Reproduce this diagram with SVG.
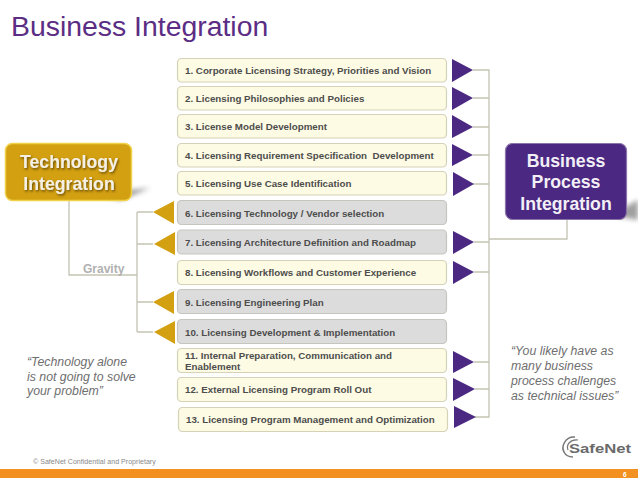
<svg xmlns="http://www.w3.org/2000/svg" width="638" height="478" viewBox="0 0 638 478">
<defs>
<filter id="blur" x="-20%" y="-50%" width="140%" height="200%"><feGaussianBlur stdDeviation="2.5"/></filter>
<filter id="ts" x="-10%" y="-20%" width="120%" height="150%"><feDropShadow dx="1" dy="1.5" stdDeviation="0.8" flood-color="#3a2a00" flood-opacity="0.7"/></filter>
<style>
text{font-family:"Liberation Sans",Arial,sans-serif}
.box{stroke-width:1.2}
.y{fill:#fdfbe3;stroke:#d5d2b8}
.g{fill:#dcdcdc;stroke:#c6c6c0}
.t{font-size:9.75px;font-weight:bold;fill:#4d4d4d}
.p{fill:#4b2882}
.o{fill:#d3a011}
.c{fill:none;stroke:#c4c3b3;stroke-width:1.3}
.q{font-size:12.3px;font-style:italic;fill:#6e6e6e}
.big{font-size:17.7px;font-weight:bold;fill:#f5f0e4;text-anchor:middle}
</style>
</defs>
<rect width="638" height="478" fill="#fff"/>
<text x="11" y="36" font-size="28.4" fill="#5b2d84">Business Integration</text>

<g id="connectors">
<path class="c" d="M473 70H489V417H475M473 98H489M473 127H489M473 155H489M473 184H489M474 242H489M474 272H489M474 362H489M475 389H489M489 239H567V220"/>
<path class="c" d="M69 200V275H137M137 212V332M137 212H153M137 244H153M137 302H153M137 332H153"/>
</g>

<g id="node-technology">
<path d="M100 194L150 188L120 200Z" fill="#666" opacity="0.75" filter="url(#blur)"/>
<rect x="5.500" y="143.500" width="126" height="57" rx="7" fill="#d3a011" stroke="#f0d24a" stroke-width="1.500"/>
<text class="big" x="69" y="168" filter="url(#ts)">Technology</text>
<text class="big" x="69" y="190" filter="url(#ts)">Integration</text>
</g>

<g id="node-business">
<path d="M610 215L638 200V220Z" fill="#777" opacity="0.7" filter="url(#blur)"/>
<rect x="505.500" y="143.500" width="121" height="76" rx="7" fill="#4b2882" stroke="#8a74a8" stroke-width="1.200"/>
<text class="big" x="566" y="167" style="fill:#f2eff6">Business</text>
<text class="big" x="566" y="188" style="fill:#f2eff6">Process</text>
<text class="big" x="566" y="210" style="fill:#f2eff6">Integration</text>
</g>

<g id="node-1"><rect class="box y" x="177.500" y="58.500" width="269" height="23.500" rx="4"/><text class="t" x="185" y="74">1. Corporate Licensing Strategy, Priorities and Vision</text><polygon class="p" points="452,59 473,70 452,82"/></g>
<g id="node-2"><rect class="box y" x="177.500" y="86.500" width="269" height="23.500" rx="4"/><text class="t" x="185" y="102">2. Licensing Philosophies and Policies</text><polygon class="p" points="452,87 473,98 452,110"/></g>
<g id="node-3"><rect class="box y" x="177.500" y="114.500" width="269" height="23.500" rx="4"/><text class="t" x="185" y="130">3. License Model Development</text><polygon class="p" points="452,115 473,127 452,138"/></g>
<g id="node-4"><rect class="box y" x="177.500" y="143.500" width="269" height="23.500" rx="4"/><text class="t" x="185" y="159" xml:space="preserve">4. Licensing Requirement Specification  Development</text><polygon class="p" points="452,144 473,155 452,166"/></g>
<g id="node-5"><rect class="box y" x="177.500" y="171.500" width="269" height="23.500" rx="4"/><text class="t" x="185" y="187">5. Licensing Use Case Identification</text><polygon class="p" points="453,172 474,184 453,196"/></g>
<g id="node-6"><rect class="box g" x="177.500" y="200.500" width="269" height="24" rx="4"/><text class="t" x="185" y="216.500">6. Licensing Technology / Vendor selection</text><polygon class="o" points="174,201 153,212 174,224"/></g>
<g id="node-7"><rect class="box g" x="177.500" y="230" width="269" height="24" rx="4"/><text class="t" x="185" y="246">7. Licensing Architecture Definition and Roadmap</text><polygon class="o" points="175,232 154,244 175,255"/><polygon class="p" points="453,231 474,242 453,254"/></g>
<g id="node-8"><rect class="box y" x="177.500" y="260.500" width="269" height="24" rx="4"/><text class="t" x="185" y="276">8. Licensing Workflows and Customer Experience</text><polygon class="p" points="453,261 474,272 453,284"/></g>
<g id="node-9"><rect class="box g" x="177.500" y="289.500" width="269" height="24" rx="4"/><text class="t" x="185" y="305.500">9. Licensing Engineering Plan</text><polygon class="o" points="174,291 153,302 174,314"/></g>
<g id="node-10"><rect class="box g" x="177.500" y="319.500" width="269" height="24" rx="4"/><text class="t" x="185" y="335.500">10. Licensing Development &amp; Implementation</text><polygon class="o" points="175,321 154,332 175,344"/></g>
<g id="node-11"><rect class="box y" x="177.500" y="348.500" width="269" height="24" rx="4"/><text class="t" x="185" y="358.500">11. Internal Preparation, Communication and</text><text class="t" x="185" y="370">Enablement</text><polygon class="p" points="453,351 474,362 453,373"/></g>
<g id="node-12"><rect class="box y" x="177.500" y="377.500" width="269" height="24" rx="4"/><text class="t" x="185" y="393">12. External Licensing Program Roll Out</text><polygon class="p" points="453,378 475,389 453,401"/></g>
<g id="node-13"><rect class="box y" x="178.500" y="407.500" width="269" height="24" rx="4"/><text class="t" x="186" y="423">13. Licensing Program Management and Optimization</text><polygon class="p" points="454,406 476,417 454,428"/></g>

<text x="83" y="273" font-size="12" font-weight="bold" fill="#b0b0b0">Gravity</text>
<text class="q" x="27" y="366">“Technology alone</text>
<text class="q" x="27" y="381">is not going to solve</text>
<text class="q" x="27" y="395">your problem”</text>
<text class="q" x="511" y="355">“You likely have as</text>
<text class="q" x="511" y="370">many business</text>
<text class="q" x="511" y="385">process challenges</text>
<text class="q" x="511" y="400">as technical issues”</text>

<g id="logo">
<path d="M575 437C565 436 561 447 564 452C566 456 570 457 573 457" fill="none" stroke="#777" stroke-width="1.500"/>
<path d="M578 440C570 439 566 445 568 450" fill="none" stroke="#777" stroke-width="1.200"/>
<text x="569" y="453" font-size="13" font-weight="bold" fill="#6a6a6a" textLength="62" lengthAdjust="spacingAndGlyphs">SafeNet</text>
</g>
<text x="33" y="464" font-size="7.1" fill="#8a8a8a">© SafeNet Confidential and Proprietary</text>
<rect y="469" width="638" height="9" fill="#f29120"/>
<text x="623" y="477" font-size="6.500" font-weight="bold" fill="#fff">6</text>
</svg>
